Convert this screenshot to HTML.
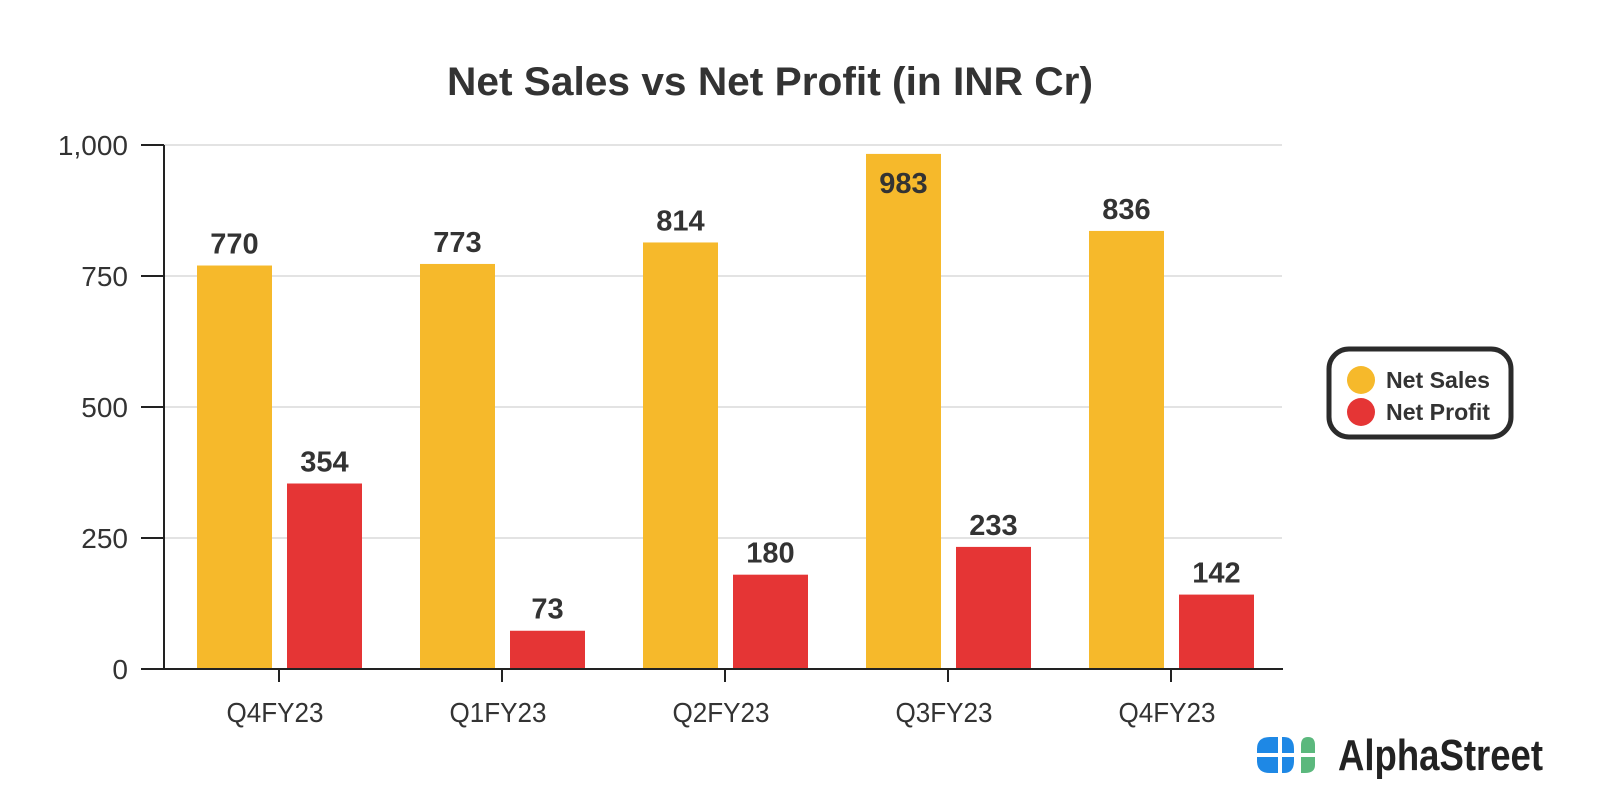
<!DOCTYPE html>
<html><head><meta charset="utf-8"><style>
body{margin:0;background:#fff;}
svg{display:block;font-family:"Liberation Sans Narrow","Liberation Sans",sans-serif;}
</style></head><body>
<svg id="chart" width="1600" height="800" viewBox="0 0 1600 800">
<text x="770" y="95" text-anchor="middle" font-size="40" font-weight="bold" fill="#333" textLength="646" lengthAdjust="spacingAndGlyphs">Net Sales vs Net Profit (in INR Cr)</text>
<g id="grid"></g><g id="bars"></g><g id="axes"></g>
<g>
<rect x="1329" y="349" width="182" height="88" rx="20" fill="#fff" stroke="#2b2b2b" stroke-width="5"/>
<circle cx="1361" cy="380" r="14" fill="#F6B92B"/>
<text x="1386" y="388" font-size="23" font-weight="bold" fill="#333" textLength="104" lengthAdjust="spacingAndGlyphs">Net Sales</text>
<circle cx="1361" cy="412" r="14" fill="#E53535"/>
<text x="1386" y="420" font-size="23" font-weight="bold" fill="#333" textLength="104" lengthAdjust="spacingAndGlyphs">Net Profit</text>
</g>
<g>
<path d="M1257 753 V749 Q1257 737 1270 737 H1278 V753 Z" fill="#1E88E5"/>
<path d="M1257 757 H1278 V773 H1270 Q1257 773 1257 761 Z" fill="#1E88E5"/>
<path d="M1282 737 H1284 Q1294 737 1294 749 V753 H1282 Z" fill="#1E88E5"/>
<path d="M1282 757 H1294 V761 Q1294 773 1284 773 H1282 Z" fill="#1E88E5"/>
<path d="M1301 753 V745 Q1301 737 1308 737 Q1315 737 1315 745 V753 Z" fill="#5BB87D"/>
<path d="M1301 757 H1315 V765 Q1315 773 1305 773 H1301 Z" fill="#5BB87D"/>
<text x="1338" y="770" font-family="Liberation Sans, sans-serif" font-size="44" font-weight="bold" fill="#222" textLength="205" lengthAdjust="spacingAndGlyphs">AlphaStreet</text>
</g>
</svg>
<script>
const categories=["Q4FY23","Q1FY23","Q2FY23","Q3FY23","Q4FY23"];
const netSales=[770,773,814,983,836];
const netProfit=[354,73,180,233,142];
const yTicks=[0,250,500,750,1000];
const yTickLabels=["0","250","500","750","1,000"];
const NS="http://www.w3.org/2000/svg";
const y0=669,yTop=145,yMax=1000;
const yScale=v=>y0-(v/yMax)*(y0-yTop);
const xCenter=i=>279+i*223;
function mk(tag,attrs,parent,text){const e=document.createElementNS(NS,tag);for(const k in attrs)e.setAttribute(k,attrs[k]);if(text!==undefined)e.textContent=text;parent.appendChild(e);return e;}
const grid=document.getElementById('grid'),bars=document.getElementById('bars'),axes=document.getElementById('axes');
yTicks.forEach((t,i)=>{
  const y=yScale(t);
  if(t>0){const l=mk('line',{x1:164,x2:1282,y1:y,y2:y,stroke:'#e3e3e3','stroke-width':2},grid);
  
  }
  const tk=mk('line',{x1:141,x2:164,y1:y,y2:y,stroke:'#222','stroke-width':2},axes);
  
  
  const tx=mk('text',{x:128,y:y+10,'text-anchor':'end','font-size':28,fill:'#333'},axes,yTickLabels[i]);
  
  
});
const bw=75;
categories.forEach((c,i)=>{
  const cx=xCenter(i);
  const ys=yScale(netSales[i]),yp=yScale(netProfit[i]);
  const b1=mk('rect',{x:cx-82,y:ys,width:bw,height:y0-ys,fill:'#F6B92B'},bars);
  
  
  const b2=mk('rect',{x:cx+8,y:yp,width:bw,height:y0-yp,fill:'#E53535'},bars);
  
  
  const inside=(ys-yTop)<40;
  const l1=mk('text',{x:cx-82+bw/2,y:inside?ys+39:ys-12,'text-anchor':'middle','font-size':29,'font-weight':'bold',fill:'#333'},bars,netSales[i]);
  
  
  const l2=mk('text',{x:cx+8+bw/2,y:yp-12,'text-anchor':'middle','font-size':29,'font-weight':'bold',fill:'#333'},bars,netProfit[i]);
  
  
  const tk=mk('line',{x1:cx,x2:cx,y1:y0,y2:y0+13,stroke:'#222','stroke-width':2},axes);
  
  
  const xl=mk('text',{x:cx-4,y:722,'text-anchor':'middle','font-size':28,fill:'#333',textLength:97,lengthAdjust:'spacingAndGlyphs'},axes,c);
  
  
});
const ya=mk('line',{x1:164,x2:164,y1:145,y2:670,stroke:'#222','stroke-width':2},axes);


const xa=mk('line',{x1:141,x2:1283,y1:669,y2:669,stroke:'#222','stroke-width':2},axes);


</script>
</body></html>
